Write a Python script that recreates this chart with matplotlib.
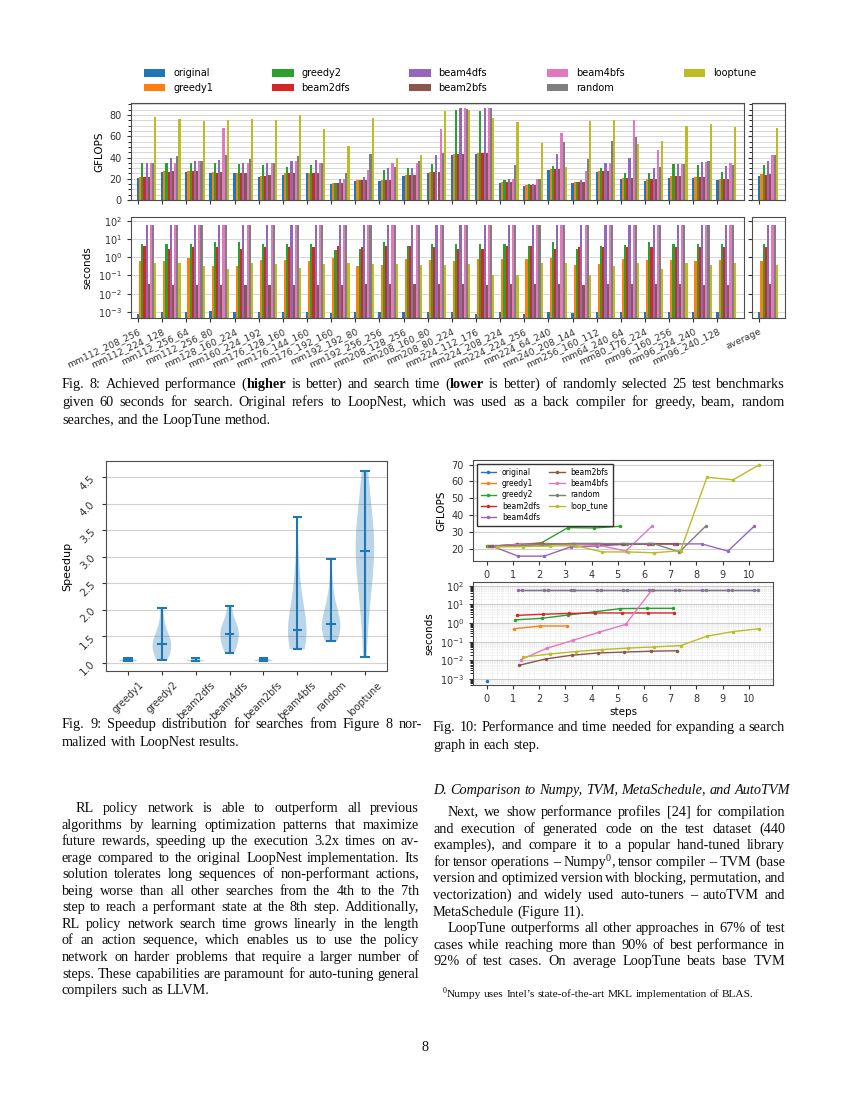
import numpy as np
import matplotlib
matplotlib.use("Agg")
import matplotlib.pyplot as plt
from matplotlib.ticker import MultipleLocator, LogLocator, NullFormatter
from matplotlib.backends.backend_agg import get_hinting_flag

W, H = 850, 1100
SERIF = "Liberation Serif"

# ---------------- Fig. 8 data (per method, one value per benchmark) ----------------
methods = ["original", "greedy1", "greedy2", "beam2dfs", "beam4dfs",
           "beam2bfs", "beam4bfs", "random", "looptune"]
benchmarks = ["mm112_208_256", "mm112_224_128", "mm112_256_64", "mm112_256_80",
              "mm128_160_224", "mm160_224_192", "mm176_128_160", "mm176_144_160",
              "mm176_192_160", "mm192_192_80", "mm192_256_256", "mm208_128_256",
              "mm208_160_80", "mm208_80_224", "mm224_112_176", "mm224_208_224",
              "mm224_224_256", "mm224_64_240", "mm240_208_144", "mm256_160_112",
              "mm64_240_64", "mm80_176_224", "mm96_160_256", "mm96_224_240",
              "mm96_240_128"]

gflops_original = [21.0, 26.0, 26.0, 25.0, 25.0, 22.0, 24.0, 25.0, 15.0, 18.0, 18.0, 23.0, 25.0,
                   42.0, 43.0, 16.0, 13.0, 28.0, 16.0, 26.0, 20.0, 18.0, 21.0, 21.0, 19.0]
gflops_greedy1 = [21.8, 27.0, 27.2, 26.0, 25.8, 23.0, 25.0, 25.6, 16.0, 18.6, 18.8, 24.0, 26.0,
                  42.9, 44.0, 17.0, 14.0, 29.0, 17.0, 27.0, 21.0, 19.5, 23.0, 21.8, 20.0]
gflops_greedy2 = [35, 35, 35, 35, 34, 33, 31, 33, 16, 18.9, 28, 30, 34,
                  85, 84, 19, 15, 32, 17, 30, 25, 25, 34, 33, 26]
gflops_beam2dfs = [21.8, 26.8, 27.0, 25.8, 25.8, 23.0, 25.0, 25.8, 16.0, 18.6, 18.7, 24.0, 26.0,
                   43.0, 44.0, 16.8, 13.8, 28.8, 16.8, 27.0, 20.8, 19.5, 22.8, 21.8, 20.0]
gflops_beam4dfs = [35, 40, 37, 38, 35, 35, 37, 38, 20, 22, 30, 30, 42,
                   87, 87, 20, 15.5, 43, 19, 35, 40, 30, 34, 36, 32]
gflops_beam2bfs = [21.6, 27.0, 27.2, 26.0, 25.6, 23.2, 25.0, 25.8, 16.0, 19.0, 18.6, 24.0, 26.0,
                   43.5, 44.2, 17.0, 14.0, 29.0, 16.9, 27.0, 21.0, 19.4, 23.0, 21.8, 20.0]
gflops_beam4bfs = [35, 35, 37, 68, 35, 35, 37, 35, 20, 28, 35, 35, 67,
                   87, 87, 20, 20, 63, 27, 35, 75, 47, 34, 36, 35]
gflops_random = [35, 41, 37, 42, 39, 35, 41, 35, 25, 43, 31, 37, 44,
                 86, 87, 33, 20, 55, 39, 56, 59, 31, 34, 37, 33]
gflops_looptune = [78, 76, 74, 75, 76, 75, 80, 67, 51, 77, 40, 42, 84,
                   85, 77, 73, 54, 31, 74, 75, 53, 56, 70, 72, 69]

sec_original = [8e-4, 1e-3, 1e-3, 1.1e-3, 1e-3, 1e-3, 1e-3, 1e-3, 9e-4, 1e-3, 1e-3, 1e-3, 1e-3,
                1e-3, 8e-4, 1e-3, 8e-4, 1e-3, 9e-4, 1e-3, 1e-3, 1e-3, 1e-3, 1e-3, 1e-3]
sec_greedy1 = [0.6, 0.6, 0.9, 0.35, 0.35, 0.7, 0.7, 0.6, 0.9, 0.35, 0.4, 0.8, 0.7,
               0.65, 0.8, 0.8, 0.8, 0.9, 0.4, 0.45, 0.8, 0.7, 0.7, 0.6, 0.7]
sec_greedy2 = [5.5, 5.5, 5.5, 6.5, 6.5, 5.5, 5.0, 5.0, 2.5, 3.0, 6.5, 4.0, 5.5,
               5.5, 5.5, 5.5, 4.0, 6.5, 3.0, 4.0, 4.5, 6.5, 5.5, 5.0, 5.5]
sec_beam2dfs = [4.0, 3.0, 3.5, 3.5, 3.0, 3.5, 3.5, 3.5, 4.0, 3.5, 4.0, 4.0, 3.5,
                3.0, 3.0, 4.0, 4.0, 3.0, 3.5, 3.5, 3.5, 3.5, 3.5, 3.5, 3.5]
sec_beam4dfs = [60, 60, 60, 60, 60, 60, 60, 60, 60, 60, 60, 60, 60,
                60, 60, 60, 60, 60, 60, 60, 60, 60, 60, 60, 60]
sec_beam2bfs = [0.035, 0.03, 0.03, 0.03, 0.03, 0.03, 0.03, 0.03, 0.03, 0.035, 0.035, 0.035, 0.035,
                0.035, 0.03, 0.035, 0.035, 0.035, 0.03, 0.035, 0.035, 0.035, 0.035, 0.03, 0.03]
sec_beam4bfs = [60, 60, 60, 60, 60, 60, 60, 60, 60, 60, 60, 60, 60,
                60, 60, 60, 60, 60, 60, 60, 60, 60, 60, 60, 60]
sec_random = [60, 60, 60, 60, 60, 60, 60, 60, 60, 60, 60, 60, 60,
              60, 60, 60, 60, 60, 60, 60, 60, 60, 60, 60, 60]
sec_looptune = [0.5, 0.5, 0.35, 0.22, 0.5, 0.45, 0.25, 0.45, 0.5, 0.45, 0.45, 0.4, 0.38,
                0.45, 0.1, 0.1, 0.5, 0.5, 0.1, 0.35, 0.5, 0.22, 0.5, 0.4, 0.5]

# ---------------- Fig. 10 data (search steps) ----------------
line_names = ["original", "greedy1", "greedy2", "beam2dfs", "beam4dfs",
              "beam2bfs", "beam4bfs", "random", "loop_tune"]
step_gflops_original = [21.5]
step_gflops_greedy1 = [21.5, 22.0, 22.5, 22.5]
step_gflops_greedy2 = [21.5, 22.0, 23.5, 32.5, 32.3, 33.3]
step_gflops_beam2dfs = [21.5, 22.5, 23.0, 22.5, 22.5, 22.5, 22.8, 22.8]
step_gflops_beam4dfs = [21.5, 15.5, 15.5, 21.0, 21.5, 22.5, 22.8, 22.8, 22.8, 18.5, 33.3]
step_gflops_beam2bfs = [21.5, 22.0, 22.5, 23.0, 23.0, 22.5, 23.0, 22.8]
step_gflops_beam4bfs = [21.5, 22.5, 22.5, 22.5, 22.0, 18.5, 33.3]
step_gflops_random = [21.5, 22.0, 22.5, 23.0, 23.0, 23.0, 23.0, 18.0, 33.3]
step_gflops_looptune = [21.0, 21.2, 21.5, 21.8, 18.0, 18.0, 17.5, 18.8, 62.5, 61.0, 70.0]

step_sec_original = [8e-4]
step_sec_greedy1 = [0.5, 0.7, 0.7]
step_sec_greedy2 = [1.5, 1.8, 2.7, 4.0, 6.0, 6.2, 6.2]
step_sec_beam2dfs = [2.6, 3.0, 3.3, 3.5, 3.5, 3.5, 3.5]
step_sec_beam4dfs = [60, 60, 60, 60, 60, 60, 60, 60, 60, 60]
step_sec_beam2bfs = [0.0055, 0.012, 0.019, 0.025, 0.028, 0.031, 0.033]
step_sec_beam4bfs = [0.011, 0.045, 0.12, 0.33, 0.85, 60]
step_sec_random = [60, 60, 60, 60, 60, 60, 60, 60, 60, 60]
step_sec_looptune = [0.015, 0.022, 0.03, 0.038, 0.046, 0.053, 0.062, 0.2, 0.35, 0.5]

colors = plt.cm.tab10.colors[:9]
fig = plt.figure(figsize=(W / 100, H / 100), dpi=100)
renderer = fig.canvas.get_renderer()


def box(l, t, r, b):
    # pixel box -> figure fraction rect
    return [l / W, 1 - b / H, (r - l) / W, (b - t) / H]


def style_axes(ax):
    for s in ax.spines.values():
        s.set_color("0.3")
    ax.tick_params(labelsize=7, colors="0.2", length=3)


# ---------------- Fig. 8 ----------------
gflops = [gflops_original, gflops_greedy1, gflops_greedy2, gflops_beam2dfs, gflops_beam4dfs,
          gflops_beam2bfs, gflops_beam4bfs, gflops_random, gflops_looptune]
seconds = [sec_original, sec_greedy1, sec_greedy2, sec_beam2dfs, sec_beam4dfs,
           sec_beam2bfs, sec_beam4bfs, sec_random, sec_looptune]

ax_g = fig.add_axes(box(131, 103, 744, 200))
ax_ga = fig.add_axes(box(752, 103, 785, 200))
ax_s = fig.add_axes(box(131, 217, 744, 318))
ax_sa = fig.add_axes(box(752, 217, 785, 318))

x = np.arange(len(benchmarks))
bw = 0.09
handles = []
for k, col in enumerate(colors):
    h = ax_g.bar(x + k * bw, gflops[k], bw, color=col, zorder=2)
    handles.append(h)
    ax_ga.bar(k * bw, np.mean(gflops[k]), bw, color=col, zorder=2)
    ax_s.bar(x + k * bw, seconds[k], bw, color=col, zorder=2)
    ax_sa.bar(k * bw, np.mean(seconds[k]), bw, color=col, zorder=2)

gmax = max(max(g) for g in gflops) * 1.05
for ax in (ax_g, ax_ga):
    style_axes(ax)
    ax.set_ylim(0, gmax)
    ax.yaxis.set_major_locator(MultipleLocator(20))
    ax.yaxis.set_minor_locator(MultipleLocator(5))
    ax.grid(axis="y", which="both", color="0.82", lw=0.6, zorder=0)
for ax in (ax_s, ax_sa):
    style_axes(ax)
    ax.set_yscale("log")
    ax.set_ylim(4.7e-4, 1.6e2)
    ax.yaxis.set_major_locator(LogLocator(base=10, numticks=10))
    ax.grid(axis="y", which="major", color="0.82", lw=0.6, zorder=0)
for ax in (ax_g, ax_s):
    ax.set_xlim(-0.29, 25.1)
    ax.set_xticks(x)
for ax in (ax_ga, ax_sa):
    ax.set_xlim(-0.3, 1.05)
    ax.set_xticks([0])
    ax.tick_params(axis="y", labelleft=False)
    ax.yaxis.set_minor_formatter(NullFormatter())
ax_g.set_xticklabels([])
ax_ga.set_xticklabels([])
ax_s.set_xticklabels(benchmarks, rotation=25, ha="right", rotation_mode="anchor", fontsize=6.7)
ax_sa.set_xticklabels(["average"], rotation=25, ha="right", rotation_mode="anchor", fontsize=6.7)
ax_g.set_ylabel("GFLOPS", fontsize=7.5)
ax_s.set_ylabel("seconds", fontsize=7.5)

fig.legend(handles, methods, ncol=5, loc="lower left", mode="expand",
           bbox_to_anchor=(140 / W, 1 - 97 / H, 620 / W, 32 / H),
           frameon=False, fontsize=7, handlelength=2.2, handleheight=0.8,
           borderaxespad=0)

# ---------------- Fig. 9 (speedup violins) ----------------
ax_v = fig.add_axes(box(106, 461, 387, 671))
base = np.array(gflops_original)
speedups = [np.array(g) / base for g in gflops[1:]]
ax_v.violinplot(speedups, showmedians=True, widths=0.55, bw_method=0.75)
style_axes(ax_v)
ax_v.set_xticks(np.arange(1, 9))
ax_v.set_xticklabels(methods[1:], rotation=45, fontsize=7)
ax_v.yaxis.set_major_locator(MultipleLocator(0.5))
ax_v.tick_params(axis="y", labelrotation=45, labelsize=7.5)
ax_v.grid(axis="y", color="0.82", lw=0.8)
ax_v.set_axisbelow(True)
ax_v.set_ylabel("Speedup", fontsize=8)

# ---------------- Fig. 10 (steps) ----------------
ax_l1 = fig.add_axes(box(473, 460, 773, 561))
ax_l2 = fig.add_axes(box(473, 582, 773, 685))
step_gflops = [step_gflops_original, step_gflops_greedy1, step_gflops_greedy2, step_gflops_beam2dfs,
               step_gflops_beam4dfs, step_gflops_beam2bfs, step_gflops_beam4bfs, step_gflops_random,
               step_gflops_looptune]
step_secs = [step_sec_original, step_sec_greedy1, step_sec_greedy2, step_sec_beam2dfs,
             step_sec_beam4dfs, step_sec_beam2bfs, step_sec_beam4bfs, step_sec_random,
             step_sec_looptune]
for i, (name, col) in enumerate(zip(line_names, colors)):
    off = 0.05 * i
    g = step_gflops[i]
    ax_l1.plot(np.arange(len(g)) + off, g, marker=".", ms=3, lw=1, color=col, label=name)
    s = step_secs[i]
    start = 0 if i == 0 else 1
    ax_l2.plot(np.arange(start, start + len(s)) + off, s, marker=".", ms=3, lw=1, color=col)

for ax in (ax_l1, ax_l2):
    style_axes(ax)
    ax.set_xlim(-0.52, 10.92)
    ax.set_xticks(range(11))
ax_l1.set_ylim(12.6, 72.8)
ax_l1.yaxis.set_major_locator(MultipleLocator(10))
ax_l1.grid(axis="y", color="0.82", lw=0.8)
ax_l1.set_ylabel("GFLOPS", fontsize=7.5)
ax_l1.legend(ncol=2, loc="upper left", fontsize=5.5, edgecolor="0.2", fancybox=False,
             framealpha=1, handlelength=2, columnspacing=1.2, labelspacing=0.3,
             borderpad=0.5)

ax_l2.set_yscale("log")
ax_l2.set_ylim(4.8e-4, 1.6e2)
ax_l2.yaxis.set_major_locator(LogLocator(base=10, numticks=10))
ax_l2.yaxis.set_minor_locator(LogLocator(base=10, subs=np.arange(2, 10), numticks=10))
ax_l2.yaxis.set_minor_formatter(NullFormatter())
ax_l2.xaxis.set_minor_locator(MultipleLocator(0.2))
ax_l2.tick_params(axis="x", which="minor", length=0)
ax_l2.grid(axis="y", which="major", color="0.8", lw=0.8)
ax_l2.grid(axis="both", which="minor", color="0.85", lw=0.5, ls=":")
ax_l2.set_axisbelow(True)
ax_l2.set_ylabel("seconds", fontsize=7.5)
ax_l2.set_xlabel("steps", fontsize=7.5, labelpad=2)


# ---------------- page text ----------------
def snap_baseline(t, Y):
    # Agg rounds each text bitmap separately; pick a y so every word sits on pixel row Y
    try:
        font = renderer._prepare_font(t.get_fontproperties())
        font.set_text(t.get_text(), 0, flags=get_hinting_flag())
        _, hh = font.get_width_height()
        d = font.get_descent() / 64.0
        top = (hh - font.get_descent()) / 64.0
        return Y + np.floor(hh / 64.0) - np.floor(top) - d
    except Exception:
        return Y


def place_line(line, y, x0, x1, size=10.3, justify=True, style="normal"):
    # markup: **bold**, ^superscript^
    Y = round(y)
    words = []
    for w in line.split(" "):
        segs = []
        for j, s in enumerate(w.split("**")):
            for m, t in enumerate(s.split("^")):
                if t:
                    segs.append((t, "bold" if j % 2 else "normal", m % 2 == 1))
        words.append(segs)
    objs, widths = [], []
    for segs in words:
        row, wsum = [], 0
        for s, weight, sup in segs:
            fs = size * 0.7 if sup else size
            yy = Y - round(size * 0.45) if sup else Y
            t = fig.text(0, 0, s, fontsize=fs, family=SERIF, fontweight=weight,
                         style=style, va="baseline", ha="left", color="0.05")
            t.set_y(1 - snap_baseline(t, yy) / H)
            ww = t.get_window_extent(renderer).width
            row.append((t, ww))
            wsum += ww
        objs.append(row)
        widths.append(wsum)
    if justify and len(words) > 1:
        gap = (x1 - x0 - sum(widths)) / (len(words) - 1)
    else:
        gap = size * 100 / 72 * 0.25
    xp = x0
    for row, wsum in zip(objs, widths):
        xi = xp
        for t, ww in row:
            t.set_x(xi / W)
            xi += ww
        xp += wsum + gap


def paragraph(lines, x0, x1, y0, dy, indent=0, size=10.3, last_justified=False):
    for i, ln in enumerate(lines):
        last = i == len(lines) - 1
        place_line(ln, y0 + i * dy, x0 + (indent if i == 0 else 0), x1, size,
                   justify=(not last) or last_justified)


cap8 = ["Fig. 8: Achieved performance (**higher** is better) and search time (**lower** is better) of randomly selected 25 test benchmarks",
        "given 60 seconds for search. Original refers to LoopNest, which was used as a back compiler for greedy, beam, random",
        "searches, and the LoopTune method."]
paragraph(cap8, 62, 785, 388, 18)

cap9 = ["Fig. 9: Speedup distribution for searches from Figure 8 nor-",
        "malized with LoopNest results."]
paragraph(cap9, 62, 422, 728, 18)

cap10 = ["Fig. 10: Performance and time needed for expanding a search",
         "graph in each step."]
paragraph(cap10, 433, 785, 731, 18)

left_body = ["RL policy network is able to outperform all previous",
             "algorithms by learning optimization patterns that maximize",
             "future rewards, speeding up the execution 3.2x times on av-",
             "erage compared to the original LoopNest implementation. Its",
             "solution tolerates long sequences of non-performant actions,",
             "being worse than all other searches from the 4th to the 7th",
             "step to reach a performant state at the 8th step. Additionally,",
             "RL policy network search time grows linearly in the length",
             "of an action sequence, which enables us to use the policy",
             "network on harder problems that require a larger number of",
             "steps. These capabilities are paramount for auto-tuning general",
             "compilers such as LLVM."]
paragraph(left_body, 62, 419, 812, 16.55, indent=14)

place_line("D. Comparison to Numpy, TVM, MetaSchedule, and AutoTVM", 794, 433, 783,
           justify=False, style="italic")
right_p1 = ["Next, we show performance profiles [24] for compilation",
            "and execution of generated code on the test dataset (440",
            "examples), and compare it to a popular hand-tuned library",
            "for tensor operations \u2013 Numpy^0^, tensor compiler \u2013 TVM (base",
            "version and optimized version with blocking, permutation, and",
            "vectorization) and widely used auto-tuners \u2013 autoTVM and",
            "MetaSchedule (Figure 11)."]
paragraph(right_p1, 433, 785, 816, 16.6, indent=15)
right_p2 = ["LoopTune outperforms all other approaches in 67% of test",
            "cases while reaching more than 90% of best performance in",
            "92% of test cases. On average LoopTune beats base TVM"]
paragraph(right_p2, 433, 785, 932, 16.6, indent=15, last_justified=True)

place_line("^0^Numpy uses Intel\u2019s state-of-the-art MKL implementation of BLAS.", 997, 443, 785,
           size=8.2, justify=False)
place_line("8", 1051, 422, 430, justify=False)

fig.savefig("out.png", dpi=100)
